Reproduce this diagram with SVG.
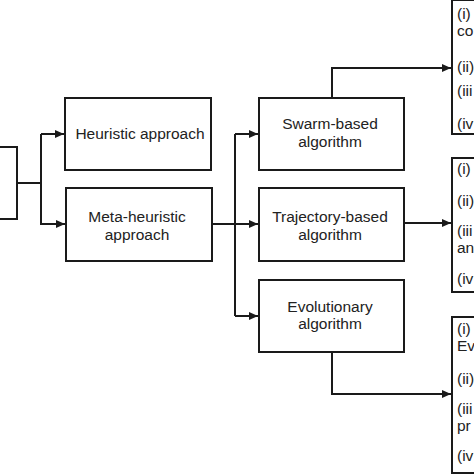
<svg xmlns="http://www.w3.org/2000/svg" width="474" height="474" viewBox="0 0 474 474">
<style>
.box{fill:#fff;stroke:#1a1a1a;stroke-width:2}
.t{font-family:"Liberation Sans",Arial,sans-serif;font-size:15.5px;fill:#222;text-anchor:middle}
.r{font-family:"Liberation Sans",Arial,sans-serif;font-size:15.5px;fill:#222}
.c{fill:none;stroke:#1a1a1a;stroke-width:2}
</style>
<defs>
<marker id="ah" markerWidth="10" markerHeight="10" refX="9" refY="5" orient="auto" markerUnits="userSpaceOnUse">
<path d="M0,1 L9,5 L0,9 Z" fill="#1a1a1a"/>
</marker>
</defs>
<rect width="474" height="474" fill="#fff"/>
<g id="connectors">
<path class="c" d="M17,183 H41"/>
<path class="c" d="M41,134 V225"/>
<path class="c" d="M41,134 H64" marker-end="url(#ah)"/>
<path class="c" d="M41,224 H65" marker-end="url(#ah)"/>
<path class="c" d="M212,224 H235"/>
<path class="c" d="M235,134 V316"/>
<path class="c" d="M235,134 H258" marker-end="url(#ah)"/>
<path class="c" d="M235,224 H258" marker-end="url(#ah)"/>
<path class="c" d="M235,316 H258" marker-end="url(#ah)"/>
<path class="c" d="M332,98 V68 H451" marker-end="url(#ah)"/>
<path class="c" d="M404,223 H451" marker-end="url(#ah)"/>
<path class="c" d="M332,352 V394 H451" marker-end="url(#ah)"/>
</g>
<g id="root"><rect class="box" x="-10" y="147" width="27" height="72"/></g>
<g id="heuristic"><rect class="box" x="65" y="98" width="146" height="72"/><text class="t" x="140" y="139">Heuristic approach</text></g>
<g id="meta"><rect class="box" x="66" y="188" width="146" height="73"/><text class="t" x="137" y="222">Meta-heuristic</text><text class="t" x="137" y="240">approach</text></g>
<g id="swarm"><rect class="box" x="259" y="98" width="145" height="72"/><text class="t" x="330" y="129">Swarm-based</text><text class="t" x="330" y="147">algorithm</text></g>
<g id="trajectory"><rect class="box" x="259" y="188" width="145" height="73"/><text class="t" x="330" y="222">Trajectory-based</text><text class="t" x="330" y="240">algorithm</text></g>
<g id="evolutionary"><rect class="box" x="259" y="280" width="145" height="72"/><text class="t" x="330" y="312">Evolutionary</text><text class="t" x="330" y="329">algorithm</text></g>
<g id="list1"><rect class="box" x="452" y="0" width="40" height="134"/>
<text class="r" x="457" y="19">(i)</text><text class="r" x="457" y="36">co</text><text class="r" x="457" y="72">(ii)</text><text class="r" x="457" y="96">(iii</text><text class="r" x="457" y="129">(iv</text></g>
<g id="list2"><rect class="box" x="452" y="158" width="40" height="134"/>
<text class="r" x="457" y="174">(i)</text><text class="r" x="457" y="206">(ii)</text><text class="r" x="457" y="236">(iii</text><text class="r" x="457" y="253">an</text><text class="r" x="457" y="284">(iv</text></g>
<g id="list3"><rect class="box" x="452" y="317" width="40" height="156"/>
<text class="r" x="457" y="334">(i)</text><text class="r" x="457" y="351">Ev</text><text class="r" x="457" y="384">(ii)</text><text class="r" x="457" y="414">(iii</text><text class="r" x="457" y="431">pr</text><text class="r" x="457" y="461">(iv</text></g>
</svg>
